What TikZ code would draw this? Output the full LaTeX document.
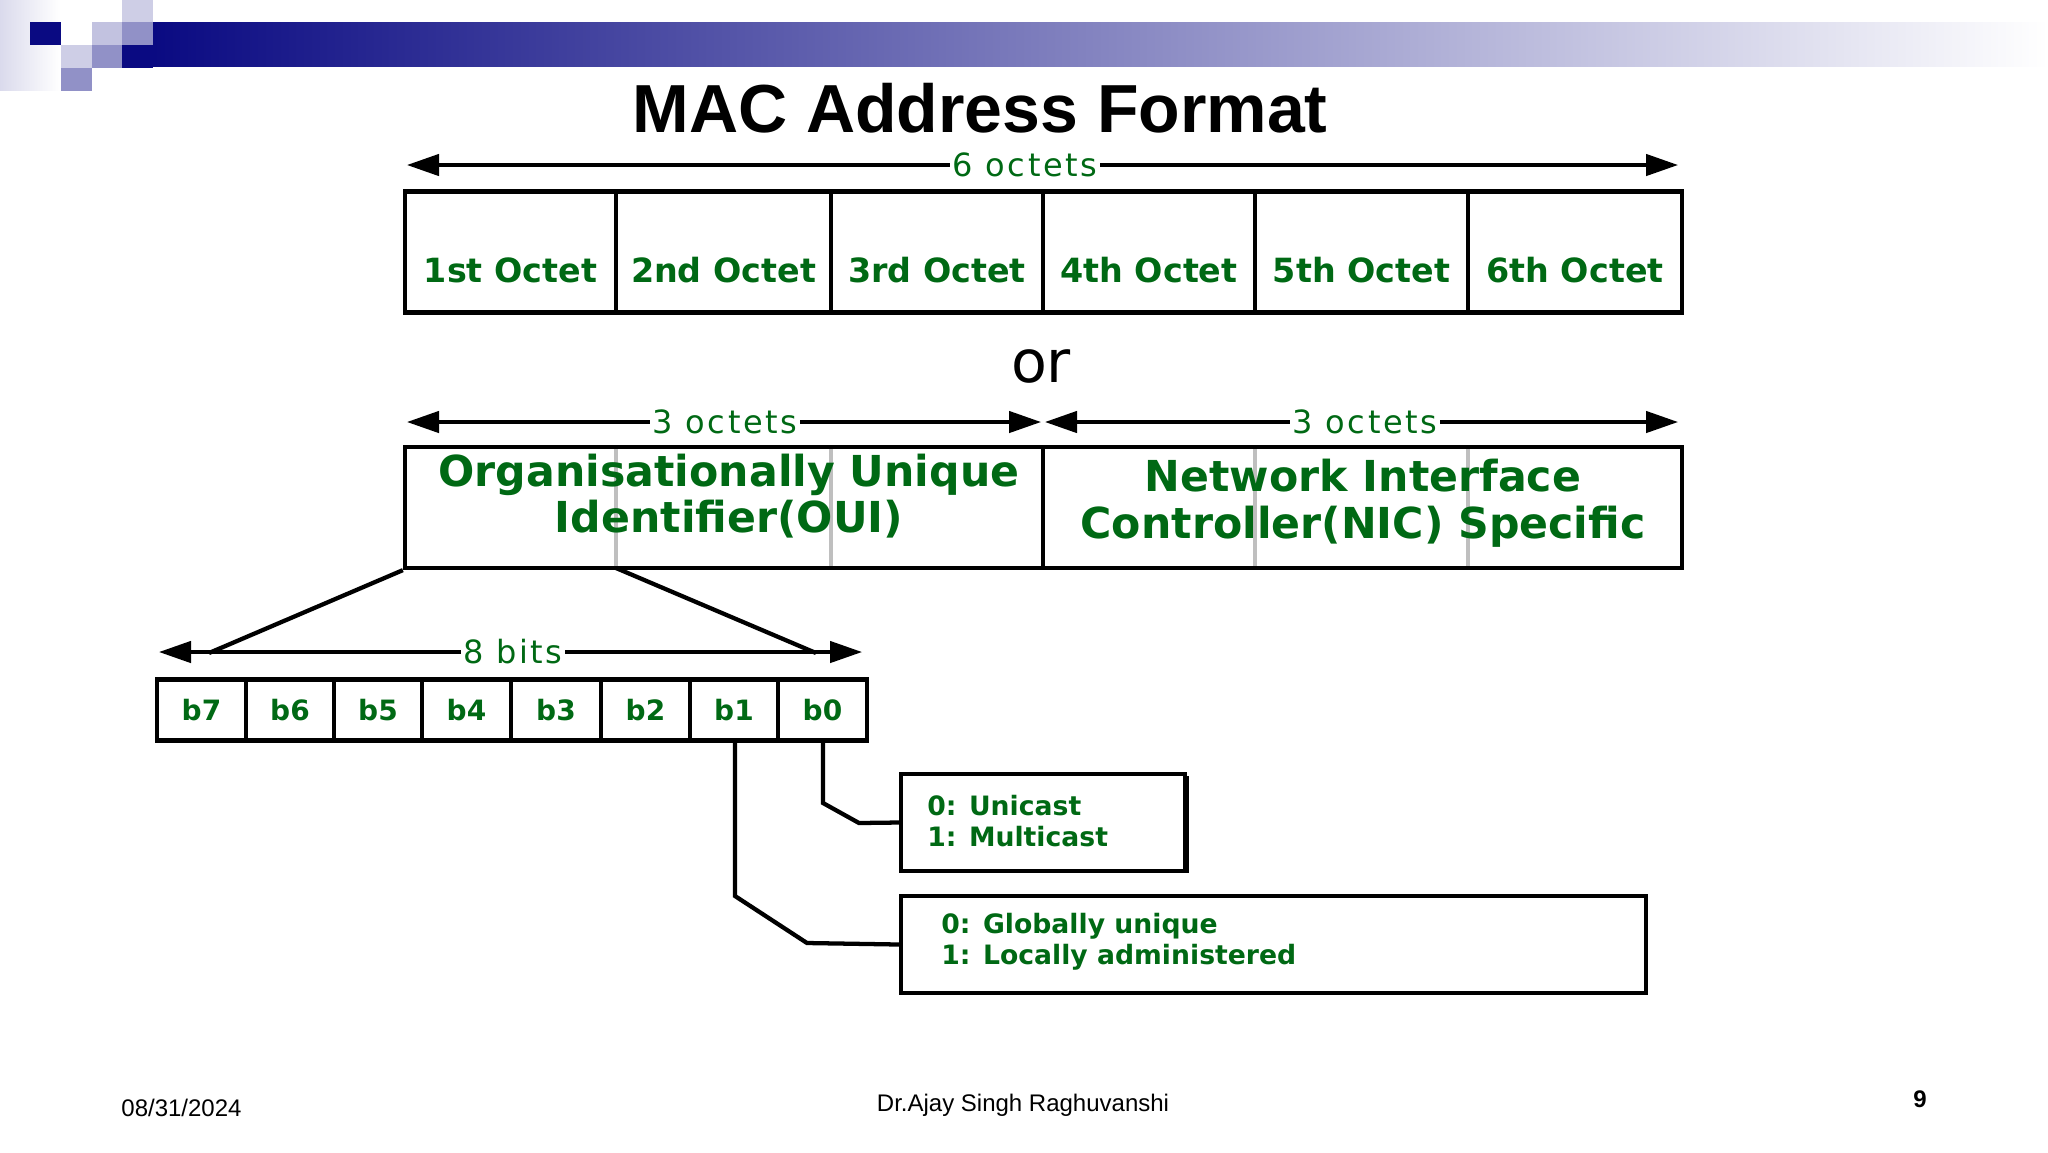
\documentclass[tikz,border=0pt]{standalone}
\usepackage{fontspec}
\setmainfont{Liberation Sans}
\newfontfamily\dv{DejaVu Sans}
\usetikzlibrary{arrows.meta}
\definecolor{navy}{RGB}{10,10,130}
\definecolor{gr}{RGB}{0,105,20}
\begin{document}
\begin{tikzpicture}[x=0.375pt,y=-0.375pt,
  box/.style={draw=black,line width=1.6pt},
  lbl/.style={text=gr,font=\dv\bfseries\fontsize{12.5}{15}\selectfont},
  bit/.style={text=gr,font=\dv\bfseries\fontsize{10.5}{12}\selectfont},
  arr/.style={line width=1.3pt,-{Triangle[length=12pt,width=8pt]}},
  alab/.style={fill=white,inner sep=1pt,text=gr,font=\dv\fontsize{12}{14}\selectfont\addfontfeature{LetterSpace=8}},
  con/.style={line width=1.6pt}]
\useasboundingbox (0,0) rectangle (2048,1152);
% header
\shade[left color=navy,right color=white] (153,22) rectangle (2048,66);
\shade[left color=navy!15,right color=white] (0,0) rectangle (60,90);
\fill[navy] (30,22) rectangle (61,45);
\fill[navy!20] (61,45) rectangle (92,68);
\fill[navy!45] (61,68) rectangle (92,91);
\fill[navy!25] (92,22) rectangle (122,45);
\fill[navy!45] (92,45) rectangle (122,68);
\fill[navy!20] (122,0) rectangle (153,22);
\fill[navy!45] (122,22) rectangle (153,45);
\fill[navy] (122,45) rectangle (153,68);
\node (title) at (980,108) {\fontsize{25.5}{30}\selectfont\bfseries MAC Address Format};
% top arrow
\coordinate (ta) at (1025,165);
\draw[arr] (ta) -- (407,165);
\draw[arr] (ta) -- (1678,165);
\node[alab] (t6) at (ta) {6 octets};
% octets
\foreach \a/\b/\t [count=\i] in {405/616/1st Octet,616/831/2nd Octet,831/1043/3rd Octet,1043/1255/4th Octet,1255/1468/5th Octet,1468/1682/6th Octet}
  {\node[box,minimum width=(\b-\a)*0.375pt,minimum height=121*0.375pt,inner sep=0pt] (o\i) at ({(\a+\b)/2},252) {};
   \node[lbl] at ({(\a+\b)/2},270) {\t};}
\node (or) at (1041,366) {\dv\fontsize{22}{24}\selectfont or};
% 3 octets arrows
\coordinate (l3) at (725,422);
\coordinate (r3) at (1365,422);
\draw[arr] (l3) -- (407,422); \draw[arr] (l3) -- (1041,422);
\draw[arr] (r3) -- (1045,422); \draw[arr] (r3) -- (1678,422);
\node[alab] at (l3) {3 octets};
\node[alab] at (r3) {3 octets};
% OUI / NIC
\foreach \x in {616,831,1255,1468} \draw[gray!50,line width=1.2pt] (\x,447) -- (\x,568);
\node[box,minimum width=638*0.375pt,minimum height=121*0.375pt] (oui) at (724,507.5) {};
\node[box,minimum width=639*0.375pt,minimum height=121*0.375pt] (nic) at (1362.5,507.5) {};
\node[lbl,font=\dv\bfseries\fontsize{16}{17.5}\selectfont,align=center] at (729,496) {Organisationally Unique\\Identifier(OUI)};
\node[lbl,font=\dv\bfseries\fontsize{16}{17.5}\selectfont,align=center] at (1363,503) {Network Interface\\Controller(NIC) Specific};
% bits
\foreach \a/\b/\t [count=\i] in {157/246/b7,246/334/b6,334/422/b5,422/511/b4,511/601/b3,601/690/b2,690/778/b1,778/867/b0}
  \node[box,bit,minimum width=(\b-\a)*0.375pt,minimum height=61*0.375pt,inner sep=0pt] (\t) at ({(\a+\b)/2},710) {\t};
\draw[con] (oui.south west) -- (209,653);
\draw[con] (616,568) -- (816,653);
\coordinate (l8) at (513,652);
\draw[arr] (l8) -- (159,652); \draw[arr] (l8) -- (862,652);
\node[alab] at (l8) {8 bits};
% explanation boxes
\node[box,minimum width=284*0.375pt,minimum height=97*0.375pt] (uni) at (1043,822.5) {};
\draw[line width=1.6pt] (1187,776) -- (1187,873);
\node[bit,font=\dv\bfseries\fontsize{10}{11.5}\selectfont,anchor=west,align=left] at (918,821) {0: Unicast\\1: Multicast};
\node[box,minimum width=745*0.375pt,minimum height=97*0.375pt] (glob) at (1273.5,944.5) {};
\node[bit,font=\dv\bfseries\fontsize{10}{11.5}\selectfont,anchor=west,align=left] at (932,942) {0: Globally unique\\1: Locally administered};
\draw[con] (b0.south -| 823,0) -- (823,803) -- (859,823) -- (uni.west);
\draw[con] (b1.south -| 735,0) -- (735,896) -- (807,943) -- (glob.west);
% footer
\node[anchor=west,font=\fontsize{9}{11}\selectfont] (date) at (112,1108) {08/31/2024};
\node[font=\fontsize{9}{11}\selectfont] (auth) at (1023,1105) {Dr.Ajay Singh Raghuvanshi};
\node[font=\bfseries\fontsize{9}{11}\selectfont] (pg) at (1920,1099) {9};
\end{tikzpicture}
\end{document}
